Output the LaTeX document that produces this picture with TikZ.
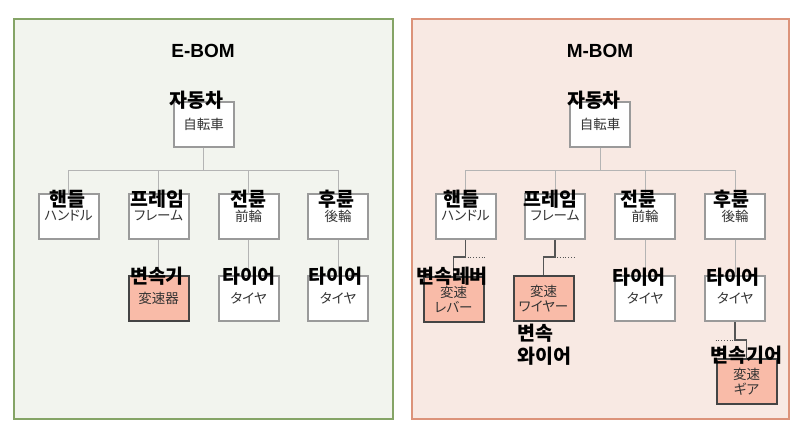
\documentclass[tikz,border=0pt]{standalone}
\usepackage{fontspec}
\setmainfont{Liberation Sans}
\newfontfamily\krfont{Noto Sans CJK KR}
\newfontfamily\jpfont[RawFeature=+palt]{Noto Sans CJK JP}
\definecolor{epanel}{HTML}{F2F4EE}
\definecolor{eborder}{HTML}{85A466}
\definecolor{mpanel}{HTML}{F8E9E3}
\definecolor{mborder}{HTML}{DC937A}
\definecolor{partpink}{HTML}{F9BBA8}
\definecolor{boxgray}{HTML}{9A9A9A}
\definecolor{linegray}{HTML}{B4B4B4}
\definecolor{darkline}{HTML}{555555}
\definecolor{jptext}{HTML}{333333}
\tikzset{
  panel/.style={line width=2pt},
  part/.style={draw=boxgray, fill=white, line width=2pt, minimum width=60pt, minimum height=45pt, inner sep=0pt,
     font=\jpfont\fontsize{13.5}{14.5}\selectfont, text=jptext, align=center},
  changed/.style={part, draw=darkline!80!black, fill=partpink},
  krlabel/.style={font=\krfont\bfseries\fontsize{19.5}{23}\selectfont, inner sep=0pt, text=black},
  title/.style={font=\bfseries\fontsize{19}{22}\selectfont, inner sep=0pt},
  tree/.style={draw=linegray, line width=1pt},
  sub/.style={draw=darkline, line width=1.4pt},
  dots/.style={draw=darkline, line width=0.8pt, dotted},
}
\begin{document}
\begin{tikzpicture}[x=1pt,y=-1pt]
\useasboundingbox (0,0) rectangle (800,432);
% panels
\node[panel, draw=eborder, fill=epanel, minimum width=379pt, minimum height=400pt, inner sep=0pt] (ep) at (203.5,219) {};
\node[panel, draw=mborder, fill=mpanel, minimum width=377pt, minimum height=400pt, inner sep=0pt] (mp) at (600.5,219) {};
\node[title] (et) at (203,50.5) {E-BOM};
\node[title] (mt) at (600,50.5) {M-BOM};

% ===== E-BOM =====
\node[part] (er) at (203.5,124) {自転車};
\node[part] (e1) at (68.5,216) {ハンドル};
\node[part] (e2) at (158.5,216) {フレーム};
\node[part] (e3) at (248.5,216) {前輪};
\node[part] (e4) at (338,216) {後輪};
\node[changed] (e5) at (158.5,298.5) {変速器};
\node[part] (e6) at (248.5,298.5) {タイヤ};
\node[part] (e7) at (338,298.5) {タイヤ};
\coordinate (ebus) at (0,170);
\foreach \c in {e1,e2,e3,e4} \draw[tree] (er.south) -- (er.south |- ebus) -| (\c.north);
\draw[tree] (e2.south) -- (e5.north);
\draw[tree] (e3.south) -- (e6.north);
\draw[tree] (e4.south) -- (e7.north);

% ===== M-BOM =====
\node[part] (mr) at (600,124) {自転車};
\node[part] (m1) at (465.5,216) {ハンドル};
\node[part] (m2) at (555,216) {フレーム};
\node[part] (m3) at (645,216) {前輪};
\node[part] (m4) at (735,216) {後輪};
\node[changed] (m5) at (453.5,299.5) {変速\\レバー};
\node[changed] (m6) at (543.5,298.5) {変速\\ワイヤー};
\node[part] (m7) at (645,298.5) {タイヤ};
\node[part] (m8) at (735,298.5) {タイヤ};
\node[changed] (m9) at (746.5,381.5) {変速\\ギア};
\coordinate (mbus) at (0,170);
\coordinate (j1) at (0,257);
\coordinate (j2) at (0,340);
\foreach \c in {m1,m2,m3,m4} \draw[tree] (mr.south) -- (mr.south |- mbus) -| (\c.north);
\draw[tree] (m3.south) -- (m7.north);
\draw[tree] (m4.south) -- (m8.north);
\draw[sub] (m1.south) -- (m1.south |- j1) -| (m5.north);
\draw[dots] ([xshift=2pt]m1.south |- j1) -- (m5.north east |- j1);
\draw[sub] (m2.south) -- (m2.south |- j1) -| (m6.north);
\draw[dots] ([xshift=2pt]m2.south |- j1) -- (m6.north east |- j1);
\draw[sub] (m8.south) -- (m8.south |- j2) -| (m9.north);
\draw[dots] (m9.north west |- j2) -- ([xshift=-2pt]m8.south |- j2);

% ===== Korean labels =====
\node[krlabel] (le0) at (196.5,100) {자동차};
\node[krlabel] (le1) at (67.5,199) {핸들};
\node[krlabel] (le2) at (157.5,199) {프레임};
\node[krlabel] (le3) at (248.5,199) {전륜};
\node[krlabel] (le4) at (336,199) {후륜};
\node[krlabel] (le5) at (157,276.5) {변속기};
\node[krlabel] (le6) at (249,276.5) {타이어};
\node[krlabel] (le7) at (335.5,276.5) {타이어};

\node[krlabel] (lm0) at (594,100) {자동차};
\node[krlabel] (lm1) at (461,199) {핸들};
\node[krlabel] (lm2) at (550.5,199) {프레임};
\node[krlabel] (lm3) at (638,199) {전륜};
\node[krlabel] (lm4) at (731,199) {후륜};
\node[krlabel] (lm5) at (452,276) {변속레버};
\node[krlabel, align=left, anchor=north west] (lm6) at (517,324) {변속\\와이어};
\node[krlabel] (lm7) at (639,277) {타이어};
\node[krlabel] (lm8) at (733,277) {타이어};
\node[krlabel] (lm9) at (746.5,355.5) {변속기어};
\end{tikzpicture}
\end{document}
